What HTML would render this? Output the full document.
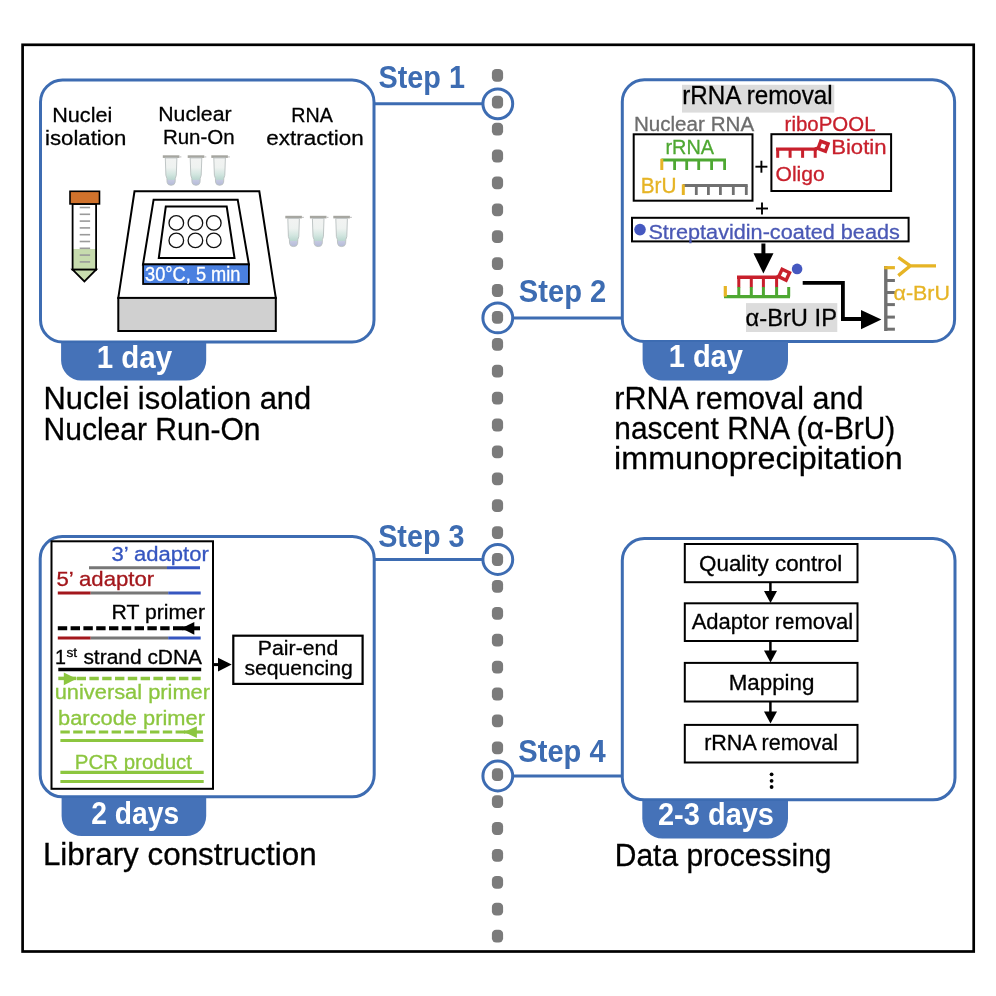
<!DOCTYPE html>
<html><head><meta charset="utf-8"><style>
html,body{margin:0;padding:0;background:#fff;}
svg{display:block;will-change:transform;}
text{font-family:"Liberation Sans",sans-serif;}
</style></head><body>
<svg width="996" height="996" viewBox="0 0 996 996">
<defs><linearGradient id="tg" x1="0" y1="0" x2="0" y2="1"><stop offset="0" stop-color="#f2f3f2"/><stop offset="0.35" stop-color="#eef2f0"/><stop offset="0.6" stop-color="#d3e6e0"/><stop offset="0.78" stop-color="#bcd8d0"/><stop offset="0.82" stop-color="#c4c8e0"/><stop offset="1" stop-color="#b4bad8"/></linearGradient></defs>
<rect width="996" height="996" fill="#fff"/>
<rect x="22.60" y="44.80" width="951.10" height="906.70" rx="0" fill="none" stroke="#000" stroke-width="2.7"/>
<rect x="491.90" y="68.90" width="11.2" height="12.8" rx="4.2" fill="#7b7b7b"/>
<rect x="491.90" y="95.80" width="11.2" height="12.8" rx="4.2" fill="#7b7b7b"/>
<rect x="491.90" y="122.70" width="11.2" height="12.8" rx="4.2" fill="#7b7b7b"/>
<rect x="491.90" y="149.60" width="11.2" height="12.8" rx="4.2" fill="#7b7b7b"/>
<rect x="491.90" y="176.50" width="11.2" height="12.8" rx="4.2" fill="#7b7b7b"/>
<rect x="491.90" y="203.40" width="11.2" height="12.8" rx="4.2" fill="#7b7b7b"/>
<rect x="491.90" y="230.30" width="11.2" height="12.8" rx="4.2" fill="#7b7b7b"/>
<rect x="491.90" y="257.20" width="11.2" height="12.8" rx="4.2" fill="#7b7b7b"/>
<rect x="491.90" y="284.10" width="11.2" height="12.8" rx="4.2" fill="#7b7b7b"/>
<rect x="491.90" y="311.00" width="11.2" height="12.8" rx="4.2" fill="#7b7b7b"/>
<rect x="491.90" y="337.90" width="11.2" height="12.8" rx="4.2" fill="#7b7b7b"/>
<rect x="491.90" y="364.80" width="11.2" height="12.8" rx="4.2" fill="#7b7b7b"/>
<rect x="491.90" y="391.70" width="11.2" height="12.8" rx="4.2" fill="#7b7b7b"/>
<rect x="491.90" y="418.60" width="11.2" height="12.8" rx="4.2" fill="#7b7b7b"/>
<rect x="491.90" y="445.50" width="11.2" height="12.8" rx="4.2" fill="#7b7b7b"/>
<rect x="491.90" y="472.40" width="11.2" height="12.8" rx="4.2" fill="#7b7b7b"/>
<rect x="491.90" y="499.30" width="11.2" height="12.8" rx="4.2" fill="#7b7b7b"/>
<rect x="491.90" y="526.20" width="11.2" height="12.8" rx="4.2" fill="#7b7b7b"/>
<rect x="491.90" y="553.10" width="11.2" height="12.8" rx="4.2" fill="#7b7b7b"/>
<rect x="491.90" y="580.00" width="11.2" height="12.8" rx="4.2" fill="#7b7b7b"/>
<rect x="491.90" y="606.90" width="11.2" height="12.8" rx="4.2" fill="#7b7b7b"/>
<rect x="491.90" y="633.80" width="11.2" height="12.8" rx="4.2" fill="#7b7b7b"/>
<rect x="491.90" y="660.70" width="11.2" height="12.8" rx="4.2" fill="#7b7b7b"/>
<rect x="491.90" y="687.60" width="11.2" height="12.8" rx="4.2" fill="#7b7b7b"/>
<rect x="491.90" y="714.50" width="11.2" height="12.8" rx="4.2" fill="#7b7b7b"/>
<rect x="491.90" y="741.40" width="11.2" height="12.8" rx="4.2" fill="#7b7b7b"/>
<rect x="491.90" y="768.30" width="11.2" height="12.8" rx="4.2" fill="#7b7b7b"/>
<rect x="491.90" y="795.20" width="11.2" height="12.8" rx="4.2" fill="#7b7b7b"/>
<rect x="491.90" y="822.10" width="11.2" height="12.8" rx="4.2" fill="#7b7b7b"/>
<rect x="491.90" y="849.00" width="11.2" height="12.8" rx="4.2" fill="#7b7b7b"/>
<rect x="491.90" y="875.90" width="11.2" height="12.8" rx="4.2" fill="#7b7b7b"/>
<rect x="491.90" y="902.80" width="11.2" height="12.8" rx="4.2" fill="#7b7b7b"/>
<rect x="491.90" y="929.70" width="11.2" height="12.8" rx="4.2" fill="#7b7b7b"/>
<line x1="374.00" y1="103.80" x2="483.30" y2="103.80" stroke="#3d6cb2" stroke-width="3"/>
<circle cx="497.80" cy="103.80" r="14.90" fill="none" stroke="#3d6cb2" stroke-width="3"/>
<line x1="511.90" y1="317.90" x2="622.50" y2="317.90" stroke="#3d6cb2" stroke-width="3"/>
<circle cx="497.80" cy="317.90" r="14.90" fill="none" stroke="#3d6cb2" stroke-width="3"/>
<line x1="374.00" y1="559.50" x2="483.30" y2="559.50" stroke="#3d6cb2" stroke-width="3"/>
<circle cx="497.80" cy="559.50" r="14.90" fill="none" stroke="#3d6cb2" stroke-width="3"/>
<line x1="511.90" y1="776.00" x2="623.00" y2="776.00" stroke="#3d6cb2" stroke-width="3"/>
<circle cx="497.80" cy="776.00" r="14.90" fill="none" stroke="#3d6cb2" stroke-width="3"/>
<text x="378.47" y="88.40" font-size="31.11" font-weight="bold" fill="#3d6cb2" textLength="86.43" lengthAdjust="spacingAndGlyphs">Step 1</text>
<text x="518.86" y="302.20" font-size="31.11" font-weight="bold" fill="#3d6cb2" textLength="87.30" lengthAdjust="spacingAndGlyphs">Step 2</text>
<text x="378.17" y="546.80" font-size="31.11" font-weight="bold" fill="#3d6cb2" textLength="86.27" lengthAdjust="spacingAndGlyphs">Step 3</text>
<text x="518.36" y="761.60" font-size="31.11" font-weight="bold" fill="#3d6cb2" textLength="87.29" lengthAdjust="spacingAndGlyphs">Step 4</text>
<rect x="40.50" y="80.00" width="333.50" height="262.00" rx="22" fill="none" stroke="#3d6cb2" stroke-width="3"/>
<rect x="622.30" y="79.80" width="332.30" height="261.60" rx="22" fill="none" stroke="#3d6cb2" stroke-width="3"/>
<rect x="40.20" y="536.50" width="334.00" height="260.30" rx="22" fill="none" stroke="#3d6cb2" stroke-width="3"/>
<rect x="622.30" y="538.50" width="332.70" height="261.30" rx="22" fill="none" stroke="#3d6cb2" stroke-width="3"/>
<path d="M61.1,343 L206.2,343 L206.2,360.4 A20,20 0 0 1 186.2,380.4 L81.1,380.4 A20,20 0 0 1 61.1,360.4 Z" fill="#4572b8" stroke="none" stroke-width="0"/>
<path d="M642.6,342 L788,342 L788,360.6 A20,20 0 0 1 768,380.6 L662.6,380.6 A20,20 0 0 1 642.6,360.6 Z" fill="#4572b8" stroke="none" stroke-width="0"/>
<path d="M61.6,798 L206.2,798 L206.2,816 A20,20 0 0 1 186.2,836 L81.6,836 A20,20 0 0 1 61.6,816 Z" fill="#4572b8" stroke="none" stroke-width="0"/>
<path d="M642.3,801 L788,801 L788,818.6 A20,20 0 0 1 768,838.6 L662.3,838.6 A20,20 0 0 1 642.3,818.6 Z" fill="#4572b8" stroke="none" stroke-width="0"/>
<text x="96.74" y="367.50" font-size="30.81" font-weight="bold" fill="#fff" textLength="75.42" lengthAdjust="spacingAndGlyphs">1 day</text>
<text x="668.67" y="367.00" font-size="30.81" font-weight="bold" fill="#fff" textLength="74.29" lengthAdjust="spacingAndGlyphs">1 day</text>
<text x="91.32" y="824.20" font-size="30.81" font-weight="bold" fill="#fff" textLength="87.84" lengthAdjust="spacingAndGlyphs">2 days</text>
<text x="658.00" y="825.20" font-size="30.81" font-weight="bold" fill="#fff" textLength="115.99" lengthAdjust="spacingAndGlyphs">2-3 days</text>
<text x="43.47" y="408.80" font-size="31.11" fill="#000" stroke="#000" stroke-width="0.3" textLength="267.72" lengthAdjust="spacingAndGlyphs">Nuclei isolation and</text>
<text x="43.54" y="439.70" font-size="31.11" fill="#000" stroke="#000" stroke-width="0.3" textLength="217.01" lengthAdjust="spacingAndGlyphs">Nuclear Run-On</text>
<text x="614.29" y="408.90" font-size="31.11" fill="#000" stroke="#000" stroke-width="0.3" textLength="249.06" lengthAdjust="spacingAndGlyphs">rRNA removal and</text>
<text x="614.33" y="439.40" font-size="31.11" fill="#000" stroke="#000" stroke-width="0.3" textLength="280.91" lengthAdjust="spacingAndGlyphs">nascent RNA (α-BrU)</text>
<text x="614.14" y="469.20" font-size="31.11" fill="#000" stroke="#000" stroke-width="0.3" textLength="288.55" lengthAdjust="spacingAndGlyphs">immunoprecipitation</text>
<text x="42.93" y="865.00" font-size="31.11" fill="#000" stroke="#000" stroke-width="0.3" textLength="273.71" lengthAdjust="spacingAndGlyphs">Library construction</text>
<text x="614.74" y="866.00" font-size="31.11" fill="#000" stroke="#000" stroke-width="0.3" textLength="216.79" lengthAdjust="spacingAndGlyphs">Data processing</text>
<text x="52.23" y="121.60" font-size="21.08" fill="#000" stroke="#000" stroke-width="0.3" textLength="60.03" lengthAdjust="spacingAndGlyphs">Nuclei</text>
<text x="45.12" y="144.70" font-size="21.08" fill="#000" stroke="#000" stroke-width="0.3" textLength="81.32" lengthAdjust="spacingAndGlyphs">isolation</text>
<text x="158.26" y="121.30" font-size="21.08" fill="#000" stroke="#000" stroke-width="0.3" textLength="73.30" lengthAdjust="spacingAndGlyphs">Nuclear</text>
<text x="162.92" y="144.40" font-size="21.08" fill="#000" stroke="#000" stroke-width="0.3" textLength="71.71" lengthAdjust="spacingAndGlyphs">Run-On</text>
<text x="291.29" y="121.60" font-size="21.08" fill="#000" stroke="#000" stroke-width="0.3" textLength="41.55" lengthAdjust="spacingAndGlyphs">RNA</text>
<text x="266.35" y="144.70" font-size="21.08" fill="#000" stroke="#000" stroke-width="0.3" textLength="97.31" lengthAdjust="spacingAndGlyphs">extraction</text>
<rect x="162.8" y="155.3" width="16.6" height="2.6" fill="#a6a6a0"/>
<rect x="179.4" y="156.3" width="2" height="1.2" fill="#c8c8c8"/>
<path d="M165.3,157.9 L176.9,157.9 L176.3,175.3 L175.3,178.3 L175.1,182.3 Q174.7,185.3 171.1,185.3 Q167.5,185.3 167.1,182.3 L166.9,178.3 L165.9,175.3 Z" fill="url(#tg)" stroke="#b9bfbf" stroke-width="0.9"/>
<rect x="187.7" y="155.3" width="16.6" height="2.6" fill="#a6a6a0"/>
<rect x="204.3" y="156.3" width="2" height="1.2" fill="#c8c8c8"/>
<path d="M190.2,157.9 L201.8,157.9 L201.2,175.3 L200.2,178.3 L200.0,182.3 Q199.6,185.3 196.0,185.3 Q192.4,185.3 192.0,182.3 L191.8,178.3 L190.8,175.3 Z" fill="url(#tg)" stroke="#b9bfbf" stroke-width="0.9"/>
<rect x="211.3" y="155.3" width="16.6" height="2.6" fill="#a6a6a0"/>
<rect x="227.9" y="156.3" width="2" height="1.2" fill="#c8c8c8"/>
<path d="M213.8,157.9 L225.4,157.9 L224.8,175.3 L223.8,178.3 L223.6,182.3 Q223.2,185.3 219.6,185.3 Q216.0,185.3 215.6,182.3 L215.4,178.3 L214.4,175.3 Z" fill="url(#tg)" stroke="#b9bfbf" stroke-width="0.9"/>
<rect x="285.3" y="215.8" width="16.6" height="2.6" fill="#a6a6a0"/>
<rect x="301.9" y="216.8" width="2" height="1.2" fill="#c8c8c8"/>
<path d="M287.8,218.4 L299.4,218.4 L298.8,236.6 L297.8,239.6 L297.6,243.6 Q297.2,246.6 293.6,246.6 Q290.0,246.6 289.6,243.6 L289.4,239.6 L288.4,236.6 Z" fill="url(#tg)" stroke="#b9bfbf" stroke-width="0.9"/>
<rect x="309.9" y="215.8" width="16.6" height="2.6" fill="#a6a6a0"/>
<rect x="326.5" y="216.8" width="2" height="1.2" fill="#c8c8c8"/>
<path d="M312.4,218.4 L324.0,218.4 L323.4,236.6 L322.4,239.6 L322.2,243.6 Q321.8,246.6 318.2,246.6 Q314.6,246.6 314.2,243.6 L314.0,239.6 L313.0,236.6 Z" fill="url(#tg)" stroke="#b9bfbf" stroke-width="0.9"/>
<rect x="333.3" y="215.8" width="16.6" height="2.6" fill="#a6a6a0"/>
<rect x="349.9" y="216.8" width="2" height="1.2" fill="#c8c8c8"/>
<path d="M335.8,218.4 L347.4,218.4 L346.8,236.6 L345.8,239.6 L345.6,243.6 Q345.2,246.6 341.6,246.6 Q338.0,246.6 337.6,243.6 L337.4,239.6 L336.4,236.6 Z" fill="url(#tg)" stroke="#b9bfbf" stroke-width="0.9"/>
<path d="M72.6,249 L96.1,249 L96.1,269.7 L84.4,281.4 L72.6,269.7 Z" fill="#c7dcae" stroke="none" stroke-width="0"/>
<rect x="72.60" y="204.00" width="23.50" height="65.70" rx="0" fill="none" stroke="#000" stroke-width="1.8"/>
<path d="M72.6,269.7 L84.4,281.4 L96.1,269.7 Z" fill="#c7dcae" stroke="#000" stroke-width="1.8"/>
<line x1="79.70" y1="207.50" x2="90.10" y2="207.50" stroke="#9a9a9a" stroke-width="1.6"/>
<line x1="79.70" y1="214.30" x2="90.10" y2="214.30" stroke="#9a9a9a" stroke-width="1.6"/>
<line x1="79.70" y1="221.10" x2="90.10" y2="221.10" stroke="#9a9a9a" stroke-width="1.6"/>
<line x1="79.70" y1="227.90" x2="90.10" y2="227.90" stroke="#9a9a9a" stroke-width="1.6"/>
<line x1="79.70" y1="234.70" x2="90.10" y2="234.70" stroke="#9a9a9a" stroke-width="1.6"/>
<line x1="79.70" y1="241.50" x2="90.10" y2="241.50" stroke="#9a9a9a" stroke-width="1.6"/>
<line x1="79.70" y1="248.30" x2="90.10" y2="248.30" stroke="#9a9a9a" stroke-width="1.6"/>
<line x1="79.70" y1="255.10" x2="90.10" y2="255.10" stroke="#9a9a9a" stroke-width="1.6"/>
<line x1="79.70" y1="261.90" x2="90.10" y2="261.90" stroke="#9a9a9a" stroke-width="1.6"/>
<rect x="70.00" y="191.30" width="29.50" height="12.60" rx="0" fill="#d0722c" stroke="#000" stroke-width="1.6"/>
<path d="M134.5,191.3 L259.3,191.3 L275.8,297.9 L118.3,297.9 Z" fill="#fff" stroke="#000" stroke-width="2"/>
<rect x="118.30" y="297.90" width="157.50" height="33.10" rx="0" fill="#d0d0d0" stroke="#000" stroke-width="2"/>
<path d="M153.6,199.7 L237.7,199.7 L248.9,264.4 L143,264.4 Z" fill="#fff" stroke="#000" stroke-width="2"/>
<path d="M165.8,206.5 L226.7,206.5 L234.5,257.9 L158.8,257.9 Z" fill="#fff" stroke="#000" stroke-width="2"/>
<circle cx="176.30" cy="222.90" r="7.30" fill="none" stroke="#111" stroke-width="1.3"/>
<circle cx="195.40" cy="222.90" r="7.30" fill="none" stroke="#111" stroke-width="1.3"/>
<circle cx="213.80" cy="222.90" r="7.30" fill="none" stroke="#111" stroke-width="1.3"/>
<circle cx="176.30" cy="240.40" r="7.30" fill="none" stroke="#111" stroke-width="1.3"/>
<circle cx="195.40" cy="240.40" r="7.30" fill="none" stroke="#111" stroke-width="1.3"/>
<circle cx="213.80" cy="240.40" r="7.30" fill="none" stroke="#111" stroke-width="1.3"/>
<rect x="143.10" y="264.40" width="105.80" height="19.60" rx="0" fill="#4a80e0" stroke="#000" stroke-width="1.8"/>
<text x="145.01" y="281.00" font-size="19.33" fill="#fff" stroke="#fff" stroke-width="0.3" textLength="95.48" lengthAdjust="spacingAndGlyphs">30°C, 5 min</text>
<rect x="682.00" y="84.80" width="152.30" height="27.80" rx="0" fill="#dcdcdc" stroke="none" stroke-width="0"/>
<text x="682.21" y="103.80" font-size="25.29" fill="#000" stroke="#000" stroke-width="0.3" textLength="150.39" lengthAdjust="spacingAndGlyphs">rRNA removal</text>
<text x="633.91" y="130.50" font-size="20.79" fill="#6d6d6d" stroke="#6d6d6d" stroke-width="0.3" textLength="120.23" lengthAdjust="spacingAndGlyphs">Nuclear RNA</text>
<rect x="633.70" y="134.30" width="118.80" height="66.40" rx="0" fill="none" stroke="#000" stroke-width="2"/>
<text x="665.48" y="154.00" font-size="20.64" fill="#4ea832" stroke="#4ea832" stroke-width="0.3" textLength="48.56" lengthAdjust="spacingAndGlyphs">rRNA</text>
<line x1="661.40" y1="160.00" x2="726.00" y2="160.00" stroke="#4ea832" stroke-width="3"/>
<line x1="674.60" y1="160.00" x2="674.60" y2="170.00" stroke="#4ea832" stroke-width="2.8"/>
<line x1="686.70" y1="160.00" x2="686.70" y2="170.00" stroke="#4ea832" stroke-width="2.8"/>
<line x1="698.70" y1="160.00" x2="698.70" y2="170.00" stroke="#4ea832" stroke-width="2.8"/>
<line x1="711.60" y1="160.00" x2="711.60" y2="170.00" stroke="#4ea832" stroke-width="2.8"/>
<line x1="724.60" y1="160.00" x2="724.60" y2="170.00" stroke="#4ea832" stroke-width="2.8"/>
<line x1="661.80" y1="158.80" x2="661.80" y2="170.00" stroke="#e6b425" stroke-width="3"/>
<text x="640.69" y="192.80" font-size="21.22" fill="#e6b425" stroke="#e6b425" stroke-width="0.3" textLength="35.81" lengthAdjust="spacingAndGlyphs">BrU</text>
<line x1="683.00" y1="185.60" x2="747.70" y2="185.60" stroke="#707070" stroke-width="3"/>
<line x1="696.30" y1="185.60" x2="696.30" y2="195.00" stroke="#707070" stroke-width="2.8"/>
<line x1="708.40" y1="185.60" x2="708.40" y2="195.00" stroke="#707070" stroke-width="2.8"/>
<line x1="720.40" y1="185.60" x2="720.40" y2="195.00" stroke="#707070" stroke-width="2.8"/>
<line x1="733.30" y1="185.60" x2="733.30" y2="195.00" stroke="#707070" stroke-width="2.8"/>
<line x1="746.30" y1="185.60" x2="746.30" y2="195.00" stroke="#707070" stroke-width="2.8"/>
<line x1="683.30" y1="184.30" x2="683.30" y2="195.00" stroke="#e6b425" stroke-width="3"/>
<line x1="755.40" y1="166.70" x2="767.40" y2="166.70" stroke="#000" stroke-width="1.9"/>
<line x1="761.40" y1="160.70" x2="761.40" y2="172.70" stroke="#000" stroke-width="1.9"/>
<line x1="756.00" y1="208.50" x2="768.00" y2="208.50" stroke="#000" stroke-width="1.9"/>
<line x1="762.00" y1="202.50" x2="762.00" y2="214.50" stroke="#000" stroke-width="1.9"/>
<rect x="771.40" y="134.20" width="119.70" height="56.80" rx="0" fill="none" stroke="#000" stroke-width="2"/>
<text x="784.64" y="130.60" font-size="20.35" fill="#c8202c" stroke="#c8202c" stroke-width="0.3" textLength="90.94" lengthAdjust="spacingAndGlyphs">riboPOOL</text>
<line x1="776.00" y1="149.10" x2="817.00" y2="149.10" stroke="#c8202c" stroke-width="3.4"/>
<line x1="777.70" y1="149.10" x2="777.70" y2="157.80" stroke="#c8202c" stroke-width="3"/>
<line x1="790.10" y1="149.10" x2="790.10" y2="157.80" stroke="#c8202c" stroke-width="3"/>
<line x1="802.60" y1="149.10" x2="802.60" y2="157.80" stroke="#c8202c" stroke-width="3"/>
<line x1="815.20" y1="149.10" x2="815.20" y2="157.80" stroke="#c8202c" stroke-width="3"/>
<line x1="815.00" y1="149.10" x2="819.50" y2="147.50" stroke="#c8202c" stroke-width="3.4"/>
<rect x="819.20" y="142.30" width="7.8" height="7.8" fill="none" stroke="#c8202c" stroke-width="3.4" transform="rotate(20 823.10 146.20)"/>
<text x="831.18" y="153.80" font-size="20.35" fill="#c8202c" stroke="#c8202c" stroke-width="0.3" textLength="55.35" lengthAdjust="spacingAndGlyphs">Biotin</text>
<text x="775.50" y="180.60" font-size="20.64" fill="#c8202c" stroke="#c8202c" stroke-width="0.3" textLength="49.29" lengthAdjust="spacingAndGlyphs">Oligo</text>
<rect x="632.00" y="217.80" width="276.60" height="23.60" rx="0" fill="none" stroke="#000" stroke-width="2"/>
<circle cx="640.00" cy="229.60" r="5.80" fill="#4558c0" stroke="none" stroke-width="0"/>
<text x="648.42" y="238.70" font-size="20.79" fill="#4a58b5" stroke="#4a58b5" stroke-width="0.3" textLength="251.36" lengthAdjust="spacingAndGlyphs">Streptavidin-coated beads</text>
<line x1="763.40" y1="243.50" x2="763.40" y2="255.00" stroke="#000" stroke-width="4"/>
<path d="M753.5,253.3 L773.5,253.3 L763.4,273.5 Z" fill="#000" stroke="none" stroke-width="0"/>
<line x1="737.00" y1="277.30" x2="778.00" y2="277.30" stroke="#c8202c" stroke-width="3.4"/>
<line x1="738.80" y1="277.30" x2="738.80" y2="287.50" stroke="#c8202c" stroke-width="3"/>
<line x1="738.80" y1="287.00" x2="738.80" y2="296.60" stroke="#4ea832" stroke-width="3"/>
<line x1="751.30" y1="277.30" x2="751.30" y2="287.50" stroke="#c8202c" stroke-width="3"/>
<line x1="751.30" y1="287.00" x2="751.30" y2="296.60" stroke="#4ea832" stroke-width="3"/>
<line x1="763.40" y1="277.30" x2="763.40" y2="287.50" stroke="#c8202c" stroke-width="3"/>
<line x1="763.40" y1="287.00" x2="763.40" y2="296.60" stroke="#4ea832" stroke-width="3"/>
<line x1="776.60" y1="277.30" x2="776.60" y2="287.50" stroke="#c8202c" stroke-width="3"/>
<line x1="776.60" y1="287.00" x2="776.60" y2="296.60" stroke="#4ea832" stroke-width="3"/>
<line x1="724.00" y1="296.60" x2="790.00" y2="296.60" stroke="#4ea832" stroke-width="3.4"/>
<line x1="788.70" y1="287.00" x2="788.70" y2="296.60" stroke="#4ea832" stroke-width="3"/>
<line x1="725.30" y1="286.00" x2="725.30" y2="296.60" stroke="#e6b425" stroke-width="3.2"/>
<line x1="777.00" y1="277.30" x2="780.00" y2="275.50" stroke="#c8202c" stroke-width="3.4"/>
<rect x="780.00" y="270.60" width="8.2" height="8.2" fill="none" stroke="#c8202c" stroke-width="3.4" transform="rotate(25 784.10 274.70)"/>
<circle cx="797.10" cy="268.90" r="5.30" fill="#4558c0" stroke="none" stroke-width="0"/>
<path d="M802.7,282.9 L842.9,282.9 L842.9,319 L862,319" fill="none" stroke="#000" stroke-width="3.8"/>
<path d="M861,309.9 L881.4,319.5 L861,329.2 Z" fill="#000" stroke="none" stroke-width="0"/>
<rect x="746.00" y="303.10" width="91.30" height="28.90" rx="0" fill="#dcdcdc" stroke="none" stroke-width="0"/>
<text x="745.61" y="326.00" font-size="24.42" fill="#000" stroke="#000" stroke-width="0.3" textLength="91.34" lengthAdjust="spacingAndGlyphs">α-BrU IP</text>
<line x1="885.80" y1="266.00" x2="885.80" y2="331.00" stroke="#707070" stroke-width="3.4"/>
<line x1="885.80" y1="280.50" x2="894.90" y2="280.50" stroke="#707070" stroke-width="3"/>
<line x1="885.80" y1="292.50" x2="894.90" y2="292.50" stroke="#707070" stroke-width="3"/>
<line x1="885.80" y1="304.60" x2="894.90" y2="304.60" stroke="#707070" stroke-width="3"/>
<line x1="885.80" y1="317.10" x2="894.90" y2="317.10" stroke="#707070" stroke-width="3"/>
<line x1="885.80" y1="329.20" x2="894.90" y2="329.20" stroke="#707070" stroke-width="3"/>
<line x1="884.20" y1="267.70" x2="894.90" y2="267.70" stroke="#e6b425" stroke-width="3.2"/>
<path d="M898.3,257.3 L910.3,265.8 L898.3,275.6 M910.3,265.8 L936,265.8" fill="none" stroke="#e6b425" stroke-width="3.3"/>
<text x="893.60" y="300.00" font-size="20.49" fill="#e6b425" stroke="#e6b425" stroke-width="0.3" textLength="56.35" lengthAdjust="spacingAndGlyphs">α-BrU</text>
<rect x="51.50" y="541.30" width="161.50" height="247.50" rx="0" fill="none" stroke="#000" stroke-width="2"/>
<text x="111.57" y="560.60" font-size="20.35" fill="#3656c0" stroke="#3656c0" stroke-width="0.3" textLength="97.30" lengthAdjust="spacingAndGlyphs">3’ adaptor</text>
<line x1="89.00" y1="567.70" x2="167.00" y2="567.70" stroke="#777" stroke-width="3"/>
<line x1="167.00" y1="567.70" x2="200.00" y2="567.70" stroke="#3656c0" stroke-width="3"/>
<text x="56.42" y="586.20" font-size="19.62" fill="#a3171c" stroke="#a3171c" stroke-width="0.3" textLength="97.85" lengthAdjust="spacingAndGlyphs">5’ adaptor</text>
<line x1="57.80" y1="592.90" x2="90.70" y2="592.90" stroke="#a3171c" stroke-width="3"/>
<line x1="90.70" y1="592.90" x2="168.20" y2="592.90" stroke="#777" stroke-width="3"/>
<line x1="168.20" y1="592.90" x2="200.70" y2="592.90" stroke="#3656c0" stroke-width="3"/>
<text x="111.58" y="619.00" font-size="19.77" fill="#000" stroke="#000" stroke-width="0.3" textLength="93.37" lengthAdjust="spacingAndGlyphs">RT primer</text>
<line x1="57.80" y1="628.30" x2="184.00" y2="628.30" stroke="#000" stroke-width="4" stroke-dasharray="9.4 3.4"/>
<line x1="182.00" y1="628.30" x2="200.00" y2="628.30" stroke="#000" stroke-width="4"/>
<path d="M181.5,628.3 L194.3,622 L194.3,634.8 Z" fill="#000" stroke="none" stroke-width="0"/>
<line x1="57.80" y1="638.00" x2="90.70" y2="638.00" stroke="#a3171c" stroke-width="3"/>
<line x1="90.70" y1="638.00" x2="168.20" y2="638.00" stroke="#777" stroke-width="3"/>
<line x1="168.20" y1="638.00" x2="200.70" y2="638.00" stroke="#3656c0" stroke-width="3"/>
<text x="55.00" y="663.80" font-size="19.77" fill="#000" stroke="#000" stroke-width="0.3" textLength="10.96" lengthAdjust="spacingAndGlyphs">1</text>
<text x="66.42" y="656.60" font-size="11.92" fill="#000" stroke="#000" stroke-width="0.3" textLength="10.68" lengthAdjust="spacingAndGlyphs">st</text>
<text x="83.42" y="663.80" font-size="19.77" fill="#000" stroke="#000" stroke-width="0.3" textLength="118.62" lengthAdjust="spacingAndGlyphs">strand cDNA</text>
<line x1="58.30" y1="669.40" x2="201.20" y2="669.40" stroke="#000" stroke-width="3.5"/>
<line x1="58.30" y1="678.40" x2="76.00" y2="678.40" stroke="#8cc63f" stroke-width="3.5"/>
<line x1="76.60" y1="678.40" x2="200.70" y2="678.40" stroke="#8cc63f" stroke-width="3.5" stroke-dasharray="9.4 3.4"/>
<path d="M76.6,678.8 L63.8,672.4 L63.8,685.2 Z" fill="#8cc63f" stroke="none" stroke-width="0"/>
<text x="54.68" y="698.80" font-size="19.77" fill="#8cc63f" stroke="#8cc63f" stroke-width="0.3" textLength="155.38" lengthAdjust="spacingAndGlyphs">universal primer</text>
<text x="58.09" y="724.60" font-size="20.35" fill="#8cc63f" stroke="#8cc63f" stroke-width="0.3" textLength="146.87" lengthAdjust="spacingAndGlyphs">barcode primer</text>
<line x1="60.40" y1="732.00" x2="186.00" y2="732.00" stroke="#8cc63f" stroke-width="3.2" stroke-dasharray="9.4 3.4"/>
<line x1="184.00" y1="732.00" x2="202.90" y2="732.00" stroke="#8cc63f" stroke-width="3.2"/>
<path d="M184.1,732 L196.9,726.2 L196.9,738.1 Z" fill="#8cc63f" stroke="none" stroke-width="0"/>
<line x1="60.40" y1="740.50" x2="203.40" y2="740.50" stroke="#8cc63f" stroke-width="3"/>
<text x="74.82" y="768.90" font-size="20.06" fill="#8cc63f" stroke="#8cc63f" stroke-width="0.3" textLength="117.13" lengthAdjust="spacingAndGlyphs">PCR product</text>
<line x1="60.40" y1="772.30" x2="203.70" y2="772.30" stroke="#8cc63f" stroke-width="3.2"/>
<line x1="60.40" y1="781.50" x2="203.70" y2="781.50" stroke="#8cc63f" stroke-width="3.2"/>
<line x1="213.00" y1="664.60" x2="220.00" y2="664.60" stroke="#000" stroke-width="3"/>
<path d="M218,657.8 L231.7,664.6 L218,671.4 Z" fill="#000" stroke="none" stroke-width="0"/>
<rect x="233.30" y="635.70" width="129.30" height="48.20" rx="0" fill="none" stroke="#000" stroke-width="2.2"/>
<text x="257.85" y="655.20" font-size="21.08" fill="#000" stroke="#000" stroke-width="0.3" textLength="80.42" lengthAdjust="spacingAndGlyphs">Pair-end</text>
<text x="244.41" y="675.30" font-size="21.08" fill="#000" stroke="#000" stroke-width="0.3" textLength="108.35" lengthAdjust="spacingAndGlyphs">sequencing</text>
<rect x="684.80" y="544.00" width="172.70" height="38.20" rx="0" fill="none" stroke="#000" stroke-width="2"/>
<text x="699.04" y="570.70" font-size="21.22" fill="#000" stroke="#000" stroke-width="0.3" textLength="143.16" lengthAdjust="spacingAndGlyphs">Quality control</text>
<rect x="684.80" y="603.30" width="172.70" height="37.70" rx="0" fill="none" stroke="#000" stroke-width="2"/>
<text x="691.66" y="629.40" font-size="21.22" fill="#000" stroke="#000" stroke-width="0.3" textLength="161.52" lengthAdjust="spacingAndGlyphs">Adaptor removal</text>
<rect x="684.80" y="662.90" width="172.70" height="38.60" rx="0" fill="none" stroke="#000" stroke-width="2"/>
<text x="728.77" y="689.60" font-size="21.22" fill="#000" stroke="#000" stroke-width="0.3" textLength="85.67" lengthAdjust="spacingAndGlyphs">Mapping</text>
<rect x="684.80" y="724.90" width="172.70" height="37.60" rx="0" fill="none" stroke="#000" stroke-width="2"/>
<text x="704.18" y="750.20" font-size="21.22" fill="#000" stroke="#000" stroke-width="0.3" textLength="133.84" lengthAdjust="spacingAndGlyphs">rRNA removal</text>
<line x1="770.40" y1="582.20" x2="770.40" y2="592.90" stroke="#000" stroke-width="2.5"/>
<path d="M764,590.9 L777,590.9 L770.5,602.9 Z" fill="#000" stroke="none" stroke-width="0"/>
<line x1="770.40" y1="641.00" x2="770.40" y2="652.50" stroke="#000" stroke-width="2.5"/>
<path d="M764,650.5 L777,650.5 L770.5,662.5 Z" fill="#000" stroke="none" stroke-width="0"/>
<line x1="770.40" y1="701.50" x2="770.40" y2="713.50" stroke="#000" stroke-width="2.5"/>
<path d="M764,711.5 L777,711.5 L770.5,723.5 Z" fill="#000" stroke="none" stroke-width="0"/>
<circle cx="771.60" cy="774.30" r="1.90" fill="#000" stroke="none" stroke-width="0"/>
<circle cx="771.60" cy="780.80" r="1.90" fill="#000" stroke="none" stroke-width="0"/>
<circle cx="771.60" cy="787.00" r="1.90" fill="#000" stroke="none" stroke-width="0"/>
</svg>
</body></html>
